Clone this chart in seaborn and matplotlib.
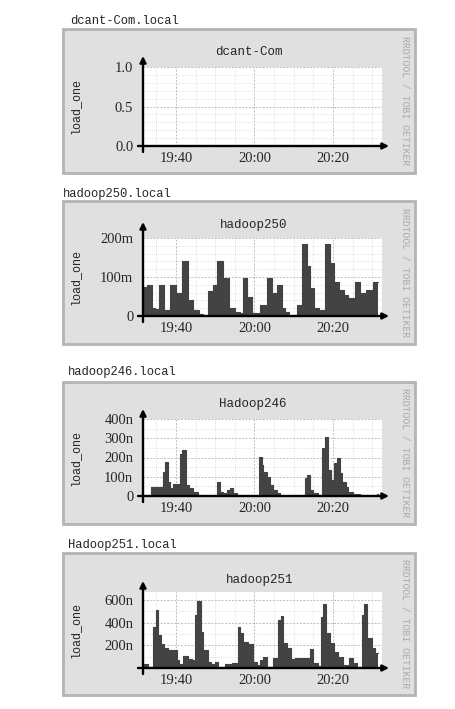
import pandas as pd
import seaborn as sns
import matplotlib.pyplot as plt
from matplotlib.patches import Rectangle
from matplotlib.ticker import MultipleLocator

# time axis: minutes after 19:30, each value holds until the next time
t_end = 61.5
time_ticks = [10, 30, 50]
time_labels = ["19:40", "20:00", "20:20"]

hosts = ["dcant-Com.local", "hadoop250.local", "hadoop246.local", "Hadoop251.local"]
titles = ["dcant-Com", "hadoop250", "Hadoop246", "hadoop251"]

# dcant-Com reports nothing
dcant_t = []
dcant_v = []

# hadoop250, load in m
hadoop250_t = [1.6, 2.6, 3.9, 4.6, 5.7, 6.9, 8.5, 10.0, 11.5, 13.1, 14.3, 15.9, 16.9,
               18.2, 19.4, 20.4, 22.0, 23.5, 25.0, 26.3, 27.1, 28.1, 29.4, 31.4, 33.2,
               34.5, 35.7, 37.0, 37.8, 38.8, 40.8, 42.1, 43.4, 44.1, 45.2, 46.4, 48.0,
               49.2, 50.3, 51.5, 52.8, 53.8, 55.6, 56.9, 58.4, 60.2]
hadoop250_v = [75, 80, 20, 17, 80, 15, 80, 58, 140, 41, 15, 5, 0,
               65, 80, 140, 97, 20, 11, 7, 97, 50, 7, 28, 97,
               58, 80, 20, 11, 0, 28, 185, 127, 71, 20, 15, 185,
               135, 88, 67, 54, 45, 88, 58, 67, 88]

# hadoop246, load in n
hadoop246_t = [1.6, 3.6, 5.1, 6.6, 7.2, 8.0, 8.5, 9.3, 11.0, 11.6, 12.5, 13.3, 14.4,
               15.7, 16.1, 20.4, 21.2, 21.9, 23.1, 23.8, 24.6, 25.6, 26.3, 31.1, 31.8,
               32.2, 33.1, 33.9, 34.8, 35.7, 36.5, 42.9, 43.3, 44.1, 45.0, 46.3, 47.3,
               48.0, 48.8, 49.4, 50.3, 51.0, 51.8, 52.4, 53.2, 53.9, 55.0, 56.9, 59.4,
               61.1]
hadoop246_v = [0, 48, 45, 126, 175, 74, 40, 62, 220, 240, 57, 40, 22,
               5, 0, 74, 22, 14, 30, 40, 14, 5, 0, 205, 160,
               126, 100, 57, 31, 14, 0, 92, 109, 31, 17, 5, 248,
               308, 135, 83, 170, 196, 118, 74, 48, 22, 10, 3, 0,
               10]

# hadoop251, load in n
hadoop251_t = [1.6, 2.9, 4.2, 4.9, 5.5, 6.1, 6.9, 8.0, 10.2, 10.8, 11.9, 13.1, 14.0,
               14.8, 15.4, 16.3, 17.0, 18.2, 18.9, 19.9, 20.8, 22.5, 24.2, 25.7, 26.3,
               27.1, 28.4, 29.7, 30.6, 31.4, 32.2, 33.1, 34.8, 36.1, 36.7, 37.4, 38.2,
               39.2, 40.3, 44.1, 45.0, 46.3, 46.9, 47.5, 48.2, 49.2, 50.3, 51.4, 52.6,
               54.1, 55.2, 56.2, 57.3, 57.9, 58.8, 59.9, 60.7]
hadoop251_v = [32, 6, 365, 510, 291, 209, 173, 159, 71, 32, 109, 79, 71,
               467, 590, 320, 159, 56, 32, 50, 12, 32, 41, 365, 306,
               226, 209, 56, 26, 71, 100, 12, 91, 423, 460, 218, 173,
               79, 91, 168, 41, 20, 453, 560, 306, 218, 144, 100, 26,
               85, 41, 12, 467, 560, 262, 173, 129]

series = [(dcant_t, dcant_v), (hadoop250_t, hadoop250_v),
          (hadoop246_t, hadoop246_v), (hadoop251_t, hadoop251_v)]

y_tops = [1.0, 200, 400, 670]
y_ticks = [[0, 0.5, 1.0], [0, 100, 200], [0, 100, 200, 300, 400], [200, 400, 600]]
y_labels = [["0.0", "0.5", "1.0"], ["0", "100m", "200m"],
            ["0", "100n", "200n", "300n", "400n"], ["200n", "400n", "600n"]]
y_minor = [0.1, 20, 50, 100]

# pixel layout: box top/bottom, plot top/bottom, header baseline, title y, arrow overshoot
layout = [
    dict(box=(29, 173), plot=(67, 146), head=(70, 24), title=(249, 52), tip=11),
    dict(box=(201, 344), plot=(238, 316), head=(63, 197), title=(254, 225), tip=16),
    dict(box=(382, 524), plot=(419, 496), head=(68, 375), title=(253, 404), tip=10),
    dict(box=(553, 695), plot=(592, 668), head=(68, 548), title=(260, 580), tip=11),
]

sns.set_style("white")
plt.rcParams['font.family'] = ['Liberation Serif', 'DejaVu Serif']

W, H = 455, 709
fig = plt.figure(figsize=(W / 100, H / 100), dpi=100)
fig.patch.set_facecolor("white")

dark = "#434343"
mono = "Liberation Mono"
x0, x1 = 143, 382

for i in range(4):
    lay = layout[i]
    bt, bb = lay["box"]
    pt, pb = lay["plot"]
    fig.patches.append(Rectangle((63 / W, 1 - bb / H), (415 - 63) / W, (bb - bt) / H,
                                 transform=fig.transFigure, facecolor="#e0e0e0",
                                 edgecolor="#b4b4b4", lw=2, zorder=-5))
    fig.text(lay["head"][0] / W, 1 - lay["head"][1] / H, hosts[i], family=mono,
             fontsize=8.7, va="baseline", ha="left")
    fig.text(lay["title"][0] / W, 1 - lay["title"][1] / H, titles[i], family=mono,
             fontsize=9, va="center", ha="center")
    fig.text(405 / W, 1 - ((bt + bb) / 2) / H, "RRDTOOL / TOBI OETIKER", family=mono,
             fontsize=7, color="#aaaaaa", rotation=270, va="center", ha="center")

    ax = fig.add_axes([x0 / W, 1 - pb / H, (x1 - x0) / W, (pb - pt) / H])
    ax.set_zorder(2)
    ax.set_facecolor("white")

    t, v = series[i]
    if t:
        df = pd.DataFrame({"t": t + [t_end], "v": v + [v[-1]]})
        ax.fill_between(df["t"], df["v"], step="post", color=dark, lw=0)
        sns.lineplot(data=df, x="t", y="v", drawstyle="steps-post", color=dark,
                     lw=0.8, errorbar=None, ax=ax)

    ax.set_xlim(1.6, 62.5)
    ax.set_ylim(0, y_tops[i])
    ax.set_xticks(time_ticks)
    ax.set_xticklabels(time_labels, fontsize=10.5)
    ax.xaxis.set_minor_locator(MultipleLocator(5))
    ax.set_yticks(y_ticks[i])
    ax.set_yticklabels(y_labels[i], fontsize=10.5)
    ax.yaxis.set_minor_locator(MultipleLocator(y_minor[i]))
    ax.tick_params(which="both", length=0)
    ax.tick_params(axis="x", pad=4)
    ax.tick_params(axis="y", pad=7)
    ax.grid(which="major", color="#bdbdbd", ls=(0, (2, 1.5)), lw=0.7)
    ax.grid(which="minor", color="#d8d8d8", ls=(0, (1, 1.5)), lw=0.6)
    ax.set_axisbelow(True)
    for s in ax.spines.values():
        s.set_visible(False)
    ax.set_xlabel("")
    ax.set_ylabel("load_one", family=mono, fontsize=8.5)
    ax.yaxis.set_label_coords((81 - x0) / (x1 - x0), 0.5)

    h = pb - pt
    w = x1 - x0
    arrow = dict(arrowstyle="-|>", lw=1.7, color="black", mutation_scale=9,
                 shrinkA=0, shrinkB=0)
    ax.annotate("", xy=(0, 1 + lay["tip"] / h), xytext=(0, -6 / h),
                xycoords="axes fraction", arrowprops=arrow, annotation_clip=False)
    ax.annotate("", xy=(1 + 7 / w, 0), xytext=(-5 / w, 0),
                xycoords="axes fraction", arrowprops=arrow, annotation_clip=False)

fig.savefig("out.png", dpi=100)
